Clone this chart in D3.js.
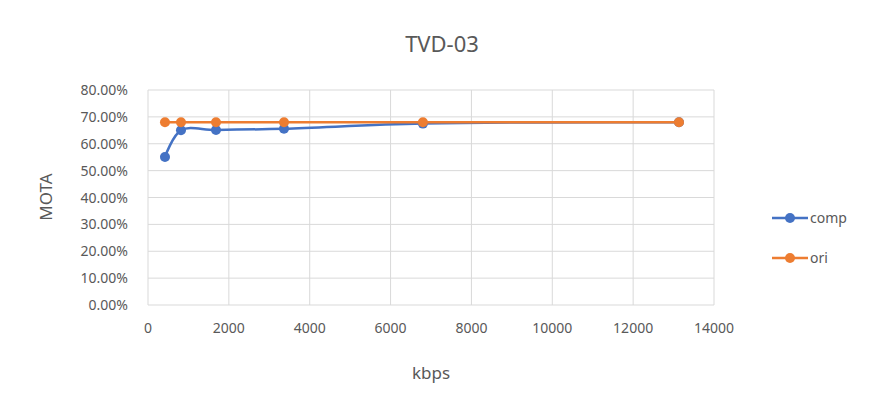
<!DOCTYPE html>
<html><head><meta charset="utf-8">
<script src="https://cdn.jsdelivr.net/npm/d3@7"></script>
<style>body{margin:0;background:#fff}text{font-family:"Noto Sans","Open Sans",sans-serif}</style>
</head><body><svg id="chart" width="885" height="413"></svg>
<script>
'use strict';
var kbps = [420, 816, 1682, 3364, 6800, 13134];
var comp = [0.551, 0.650, 0.651, 0.656, 0.675, 0.680];
var ori = [0.680, 0.680, 0.680, 0.680, 0.680, 0.680];
var xTicks = [0, 2000, 4000, 6000, 8000, 10000, 12000, 14000];
var yTicks = [0, 0.1, 0.2, 0.3, 0.4, 0.5, 0.6, 0.7, 0.8];
var series = [{name: "comp", values: comp, color: "#4472C4"}, {name: "ori", values: ori, color: "#ED7D31"}];

var svg = d3.select("#chart");
var x = d3.scaleLinear().domain([0, 14000]).range([148, 714]);
var y = d3.scaleLinear().domain([0, 0.8]).range([305, 90]);

// grid
svg.append("g").selectAll("line").data(yTicks).enter().append("line")
    .attr("x1", 148).attr("x2", 714)
    .attr("y1", function (d) { return y(d); }).attr("y2", function (d) { return y(d); })
    .attr("stroke", "#d9d9d9");
svg.append("g").selectAll("line").data(xTicks).enter().append("line")
    .attr("y1", 90).attr("y2", 305)
    .attr("x1", function (d) { return x(d); }).attr("x2", function (d) { return x(d); })
    .attr("stroke", "#d9d9d9");

// tick labels
svg.append("g").selectAll("text").data(yTicks).enter().append("text")
    .attr("x", 128).attr("y", function (d) { return y(d) + 5; })
    .attr("text-anchor", "end").attr("font-size", 14).attr("fill", "#595959")
    .text(function (d) { return (d * 100).toFixed(2) + "%"; });
svg.append("g").selectAll("text").data(xTicks).enter().append("text")
    .attr("x", function (d) { return x(d); }).attr("y", 333)
    .attr("text-anchor", "middle").attr("font-size", 14).attr("fill", "#595959")
    .text(function (d) { return d; });

svg.append("text").attr("x", 442).attr("y", 52).attr("text-anchor", "middle")
    .attr("font-size", 22).attr("fill", "#595959").text("TVD-03");
svg.append("text").attr("x", 431).attr("y", 379).attr("text-anchor", "middle")
    .attr("font-size", 17).attr("fill", "#595959").text("kbps");
svg.append("text").attr("transform", "translate(52,197) rotate(-90)").attr("text-anchor", "middle")
    .attr("font-size", 17).attr("fill", "#595959").text("MOTA");

var line = d3.line().curve(d3.curveCatmullRom.alpha(0.5))
    .x(function (d, i) { return x(kbps[i]); }).y(function (d) { return y(d); });

series.forEach(function (s, k) {
    var g = svg.append("g");
    g.append("path").attr("d", line(s.values)).attr("fill", "none")
        .attr("stroke", s.color).attr("stroke-width", 2.5);
    g.selectAll("circle").data(s.values).enter().append("circle")
        .attr("cx", function (d, i) { return x(kbps[i]); }).attr("cy", function (d) { return y(d); })
        .attr("r", 5).attr("fill", s.color);
    var ly = 218 + k * 40;
    svg.append("line").attr("x1", 772).attr("x2", 808).attr("y1", ly).attr("y2", ly)
        .attr("stroke", s.color).attr("stroke-width", 2.5);
    svg.append("circle").attr("cx", 790).attr("cy", ly).attr("r", 5).attr("fill", s.color);
    svg.append("text").attr("x", 810).attr("y", ly + 5).attr("font-size", 14)
        .attr("fill", "#595959").text(s.name);
});
</script></body></html>
